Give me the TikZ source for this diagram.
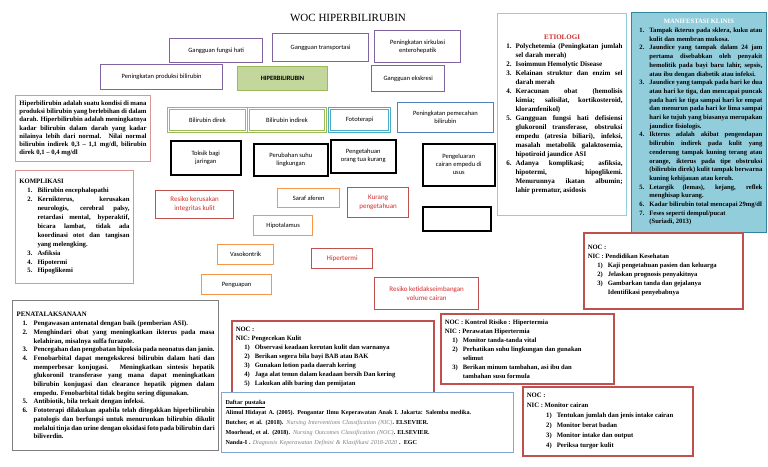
\documentclass[tikz,border=0pt]{standalone}
\usepackage{fontspec}
\setmainfont{Liberation Serif}
\newfontfamily\boxfont{Carlito}
\usepackage{enumitem}
\setlist[enumerate]{nosep}
\hyphenpenalty=10000
\exhyphenpenalty=10000
\tolerance=10000
\definecolor{ungu}{HTML}{8064A2}
\definecolor{hijau}{HTML}{9BBB59}
\definecolor{hijaumuda}{HTML}{C3D69B}
\definecolor{biru}{HTML}{4F81BD}
\definecolor{tosca}{HTML}{4BACC6}
\definecolor{oranye}{HTML}{F79646}
\definecolor{merah}{HTML}{C0504D}
\definecolor{merahteks}{HTML}{D42A2A}
\definecolor{merahmuda}{HTML}{D99694}
\definecolor{birumuda}{HTML}{92CDDC}
\definecolor{birutua}{HTML}{31859C}
\definecolor{abu}{HTML}{7F7F7F}
\newcommand\ukuran[2]{\fontsize{#1}{#2}\selectfont}

\begin{document}
\begin{tikzpicture}[x=1pt, y=-1pt,
        kotak/.style={anchor=north west, inner sep=2pt, align=center, font=\boxfont\ukuran{6.5}{8}},
        ungubox/.style={kotak, draw=ungu, line width=1.3pt},
        hijaubox/.style={kotak, draw=hijau, line width=1pt, double=white, double distance=0.8pt},
        hitambox/.style={kotak, draw=black, line width=1.5pt},
        oranyebox/.style={kotak, draw=oranye, line width=1.3pt},
        risiko/.style={kotak, draw=merah, line width=1.3pt, text=merahteks, font=\boxfont\ukuran{7}{9}},
        teks/.style={anchor=north west, inner sep=4pt, align=justify},
        nocbox/.style={teks, draw=merah, line width=1.6pt, fill=white, font=\bfseries\ukuran{6.6}{9}}
    ]
    \useasboundingbox (0,0) rectangle (768,466);

    % === Judul ===
    \node[anchor=center, inner sep=0pt, font=\ukuran{11}{13}] (judul) at (348,18) {WOC HIPERBILIRUBIN};

    % === Penyebab ===
    \node[ungubox, minimum width=93, minimum height=24] (fungsihati) at (169,38) {Gangguan fungsi hati};
    \node[ungubox, minimum width=96, minimum height=28] (transportasi) at (272,33) {Gangguan transportasi};
    \node[ungubox, minimum width=86, minimum height=32] (sirkulasi) at (374,30) {Peningkatan sirkulasi\\enterohepatik};
    \node[ungubox, minimum width=122, minimum height=25] (produksi) at (100,64) {Peningkatan produksi bilirubin};
    \node[kotak, draw=hijau, fill=hijaumuda, line width=1pt, minimum width=90, minimum height=24,
          font=\boxfont\bfseries\ukuran{6.5}{8}] (hiper) at (237,66) {HIPERBILIRUBIN};
    \node[ungubox, minimum width=73, minimum height=26] (ekskresi) at (371,65) {Gangguan ekskresi};

    % === Jenis bilirubin ===
    \node[hijaubox, minimum width=78, minimum height=23] (direk) at (168,108) {Bilirubin direk};
    \node[hijaubox, minimum width=77, minimum height=23] (indirek) at (248,108) {Bilirubin indirek};
    \node[kotak, draw=tosca, line width=1pt, double=white, double distance=0.8pt,
          minimum width=60, minimum height=23] (fototerapi) at (329,108) {Fototerapi};
    \node[kotak, draw=biru, line width=0.8pt, minimum width=96, minimum height=30] (pemecahan) at (397,102) {Peningkatan pemecahan\\bilirubin};

    % === Dampak ===
    \node[hitambox, minimum width=70, minimum height=34] (toksik) at (170,140) {Toksik bagi\\jaringan};
    \node[hitambox, minimum width=74, minimum height=32] (suhu) at (253,143) {Perubahan suhu\\lingkungan};
    \node[hitambox, minimum width=65, minimum height=33] (pengetahuan) at (330,139) {Pengetahuan\\orang tua kurang};
    \node[hitambox, minimum width=72, minimum height=42] (empedu) at (422,143) {Pengeluaran\\cairan empedu di\\usus};
    \node[hitambox, minimum width=68, minimum height=24] (kosong) at (422,206) {};

    % === Diagnosa ===
    \node[risiko, minimum width=78, minimum height=28] (integritas) at (155,190) {Resiko kerusakan\\integritas kulit};
    \node[oranyebox, minimum width=62, minimum height=19] (aferen) at (277,188) {Saraf aferen};
    \node[risiko, minimum width=61, minimum height=30] (kurang) at (347,187) {Kurang\\pengetahuan};
    \node[oranyebox, minimum width=59, minimum height=20] (hipotalamus) at (253,215) {Hipotalamus};
    \node[oranyebox, minimum width=56, minimum height=20] (vaso) at (217,244) {Vasokontrik};
    \node[risiko, minimum width=61, minimum height=20] (hipertermi) at (311,248) {Hipertermi};
    \node[oranyebox, minimum width=70, minimum height=20] (penguapan) at (201,274) {Penguapan};
    \node[risiko, minimum width=104, minimum height=32] (volume) at (374,277) {Resiko ketidakseimbangan\\volume cairan};

    % === Pengertian dan komplikasi ===
    \node[teks, draw=merahmuda, line width=1pt, text width=127, minimum height=66, font=\bfseries\ukuran{6.7}{8.3}] (definisi) at (15,95)
        {Hiperbilirubin adalah suatu kondisi di mana produksi bilirubin yang berlebihan di dalam darah. Hiperbilirubin adalah meningkatnya kadar bilirubin dalam darah yang kadar nilainya lebih dari normal. Nilai normal bilirubin indirek 0,3 -- 1,1 mg/dl, bilirubin direk 0,1 -- 0,4 mg/dl};
    \node[teks, draw=merahmuda, line width=1pt, text width=110, minimum height=113, font=\bfseries\ukuran{6.7}{8.9}] (komplikasi) at (15,170)
        {KOMPLIKASI
        \begin{enumerate}[label=\arabic*., leftmargin=18pt, labelsep=5pt]
            \item Bilirubin encephalopathi
            \item Kernikterus, kerusakan neurologis, cerebral palsy, retardasi mental, hyperaktif, bicara lambat, tidak ada koordinasi otot dan tangisan yang melengking.
            \item Asfiksia
            \item Hipotermi
            \item Hipoglikemi
        \end{enumerate}};

    % === Etiologi dan manifestasi ===
    \node[teks, draw=birumuda, line width=1.2pt, text width=121, minimum height=202, font=\bfseries\ukuran{7}{9}] (etiologi) at (497,13)
        {\makebox[\linewidth]{\color{merahteks}ETIOLOGI}
        \begin{enumerate}[label=\arabic*., leftmargin=14pt, labelsep=4pt]
            \item Polychetemia (Peningkatan jumlah sel darah merah)
            \item Isoimmun Hemolytic Disease
            \item Kelainan struktur dan enzim sel darah merah
            \item Keracunan obat (hemolisis kimia; salisilat, kortikosteroid, kloramfenikol)
            \item Gangguan fungsi hati defisiensi glukoronil transferase, obstruksi empedu (atresia biliari), infeksi, masalah metabolik galaktosemia, hipotiroid jaundice ASI
            \item Adanya komplikasi; asfiksia, hipotermi, hipoglikemi. Menurunnya ikatan albumin; lahir prematur, asidosis
        \end{enumerate}};
    \node[teks, draw=birutua, fill=birumuda, line width=0.8pt, text width=127, minimum height=220, font=\bfseries\ukuran{6.6}{8.7}] (manifestasi) at (631,12)
        {\makebox[\linewidth]{\color{white}MANIFESTASI KLINIS}
        \begin{enumerate}[label=\arabic*., leftmargin=14pt, labelsep=5pt]
            \item Tampak ikterus pada sklera, kuku atau kulit dan membran mukosa.
            \item Jaundice yang tampak dalam 24 jam pertama disebabkan oleh penyakit hemolitik pada bayi baru lahir, sepsis, atau ibu dengan diabetik atau infeksi.
            \item Jaundice yang tampak pada hari ke dua atau hari ke tiga, dan mencapai puncak pada hari ke tiga sampai hari ke empat dan menurun pada hari ke lima sampai hari ke tujuh yang biasanya merupakan jaundice fisiologis.
            \item Ikterus adalah akibat pengendapan bilirubin indirek pada kulit yang cenderung tampak kuning terang atau orange, ikterus pada tipe obstruksi (bilirubin direk) kulit tampak berwarna kuning kehijauan atau keruh.
            \item Letargik (lemas), kejang, reflek menghisap kurang.
            \item Kadar bilirubin total mencapai 29mg/dl
            \item Feses seperti dempul/pucat
            \item[] (Suriadi, 2013)
        \end{enumerate}};

    % === Penatalaksanaan ===
    \node[teks, draw=abu, line width=1.3pt, text width=198, minimum height=150, font=\bfseries\ukuran{6.8}{8.7}] (penatalaksanaan) at (12,300)
        {PENATALAKSANAAN
        \begin{enumerate}[label=\arabic*., leftmargin=17pt, labelsep=6pt]
            \item Pengawasan antenatal dengan baik (pemberian ASI).
            \item Menghindari obat yang meningkatkan ikterus pada masa kelahiran, misalnya sulfa furazole.
            \item Pencegahan dan pengobatan hipoksia pada neonatus dan janin.
            \item Fenobarbital dapat mengekskresi bilirubin dalam hati dan memperbesar konjugasi. Meningkatkan sintesis hepatik glukoronil transferase yang mana dapat meningkatkan bilirubin konjugasi dan clearance hepatik pigmen dalam empedu. Fenobarbital tidak begitu sering digunakan.
            \item Antibiotik, bila terkait dengan infeksi.
            \item Fototerapi dilakukan apabila telah ditegakkan hiperbilirubin patologis dan berfungsi untuk menurunkan bilirubin dikulit melalui tinja dan urine dengan oksidasi foto pada bilirubin dari biliverdin.
        \end{enumerate}};

    % === NOC / NIC ===
    \node[nocbox, text width=151, minimum height=76] (pendidikan) at (583,232)
        {NOC :\\ NIC : Pendidikan Kesehatan
        \begin{enumerate}[label=\arabic*), leftmargin=20pt, labelsep=5pt]
            \item Kaji pengetahuan pasien dan keluarga
            \item Jelaskan prognosis penyakitnya
            \item Gambarkan tanda dan gejalanya\newline Identifikasi penyebabnya
        \end{enumerate}\vspace*{12pt}};
    \node[nocbox, text width=194, minimum height=72] (kulit) at (231,320)
        {NOC :\\ NIC: Pengecekan Kulit
        \begin{enumerate}[label=\arabic*), leftmargin=19pt, labelsep=5pt]
            \item Observasi keadaan kerutan kulit dan warnanya
            \item Berikan segera bila bayi BAB atau BAK
            \item Gunakan lotion pada daerah kering
            \item Jaga alat tenun dalam keadaan bersih Dan kering
            \item Lakukan alih baring dan pemijatan
        \end{enumerate}\vspace*{8pt}};
    \node[nocbox, text width=165, minimum height=70] (kontrol) at (440,313)
        {NOC : Kontrol Risiko : Hipertermia\\ NIC : Perawatan Hipertermia
        \begin{enumerate}[label=\arabic*), leftmargin=18pt, labelsep=5pt]
            \item Monitor tanda-tanda vital
            \item Perhatikan suhu lingkungan dan gunakan\newline selimut
            \item Berikan minum tambahan, asi ibu dan\newline tambahan susu formula
        \end{enumerate}};
    \node[nocbox, text width=162, minimum height=69, font=\bfseries\ukuran{6.7}{10}] (monitor) at (522,386)
        {NOC :\\ NIC : Monitor cairan
        \begin{enumerate}[label=\arabic*), leftmargin=30pt, labelsep=5pt]
            \item Tentukan jumlah dan jenis intake cairan
            \item Monitor berat badan
            \item Monitor intake dan output
            \item Periksa turgor kulit
        \end{enumerate}};

    % === Daftar pustaka ===
    \node[teks, draw=biru!70, fill=white, line width=1pt, text width=284, minimum height=60, align=left, font=\bfseries\ukuran{6.1}{10}] (pustaka) at (221,392)
        {\underline{Daftar pustaka}\\
        Alimul Hidayat A. (2005). Pengantar Ilmu Keperawatan Anak I. Jakarta: Salemba medika.\\
        Butcher, et al. (2018). {\color{abu}\mdseries\itshape Nursing Interventions Classification (NIC)}. ELSEVIER.\\
        Moorhead, et al. (2018). {\color{abu}\mdseries\itshape Nursing Outcomes Classification (NOC)}. ELSEVIER.\\
        Nanda-I . {\color{abu}\mdseries\itshape Diagnosis Keperawatan Definisi \& Klasifikasi 2018-2020} . EGC};
\end{tikzpicture}
\end{document}
